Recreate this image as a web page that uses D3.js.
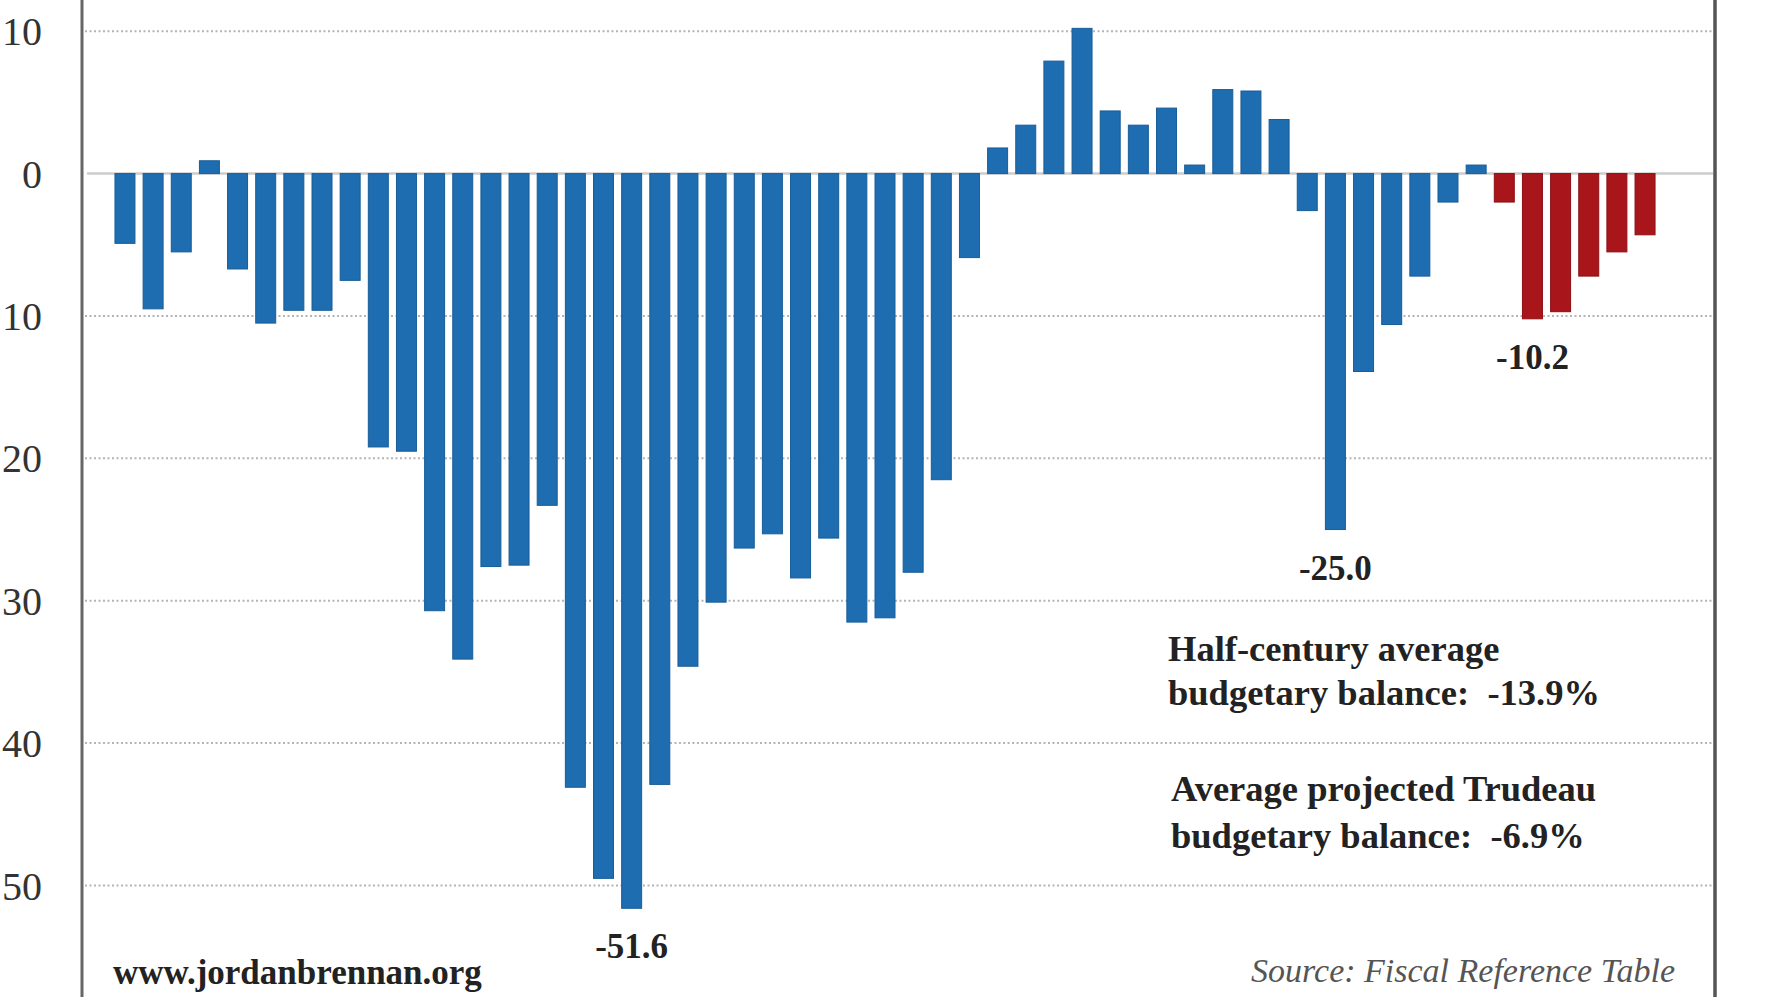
<!DOCTYPE html>
<html lang="en">
<head>
<meta charset="utf-8">
<title>Federal budgetary balance</title>
<script src="https://d3js.org/d3.v7.min.js"></script>
<style>
  body { margin: 0; background: #fff; }
  svg { display: block; }
</style>
</head>
<body>
<script>
// fiscal years, 1966-67 .. 2020-21
var years = ["1966-67","1967-68","1968-69","1969-70","1970-71","1971-72","1972-73","1973-74","1974-75","1975-76",
             "1976-77","1977-78","1978-79","1979-80","1980-81","1981-82","1982-83","1983-84","1984-85","1985-86",
             "1986-87","1987-88","1988-89","1989-90","1990-91","1991-92","1992-93","1993-94","1994-95","1995-96",
             "1996-97","1997-98","1998-99","1999-00","2000-01","2001-02","2002-03","2003-04","2004-05","2005-06",
             "2006-07","2007-08","2008-09","2009-10","2010-11","2011-12","2012-13","2013-14","2014-15","2015-16",
             "2016-17","2017-18","2018-19","2019-20","2020-21"];

var balance = [-4.9, -9.5, -5.5, 0.9, -6.7, -10.5, -9.6, -9.6, -7.5, -19.2,
               -19.5, -30.7, -34.1, -27.6, -27.5, -23.3, -43.1, -49.5, -51.6, -42.9,
               -34.6, -30.1, -26.3, -25.3, -28.4, -25.6, -31.5, -31.2, -28.0, -21.5,
               -5.9, 1.8, 3.4, 7.9, 10.2, 4.4, 3.4, 4.6, 0.6, 5.9,
               5.8, 3.8, -2.6, -25.0, -13.9, -10.6, -7.2, -2.0, 0.6, -2.0,
               -10.2, -9.7, -7.2, -5.5, -4.3];

// projected (Trudeau) years start here
var firstProjected = "2015-16";

var yTicks = [10, 0, -10, -20, -30, -40, -50];

var labelledYears = ["1984-85", "2009-10", "2016-17"];

var noteLines = ["Half-century average", "budgetary balance:  -13.9%",
                 "Average projected Trudeau", "budgetary balance:  -6.9%"];

var siteText = "www.jordanbrennan.org";
var sourceText = "Source: Fiscal Reference Table";

var width = 1778, height = 997;
var axisX = 82, rightX = 1715;

var data = years.map(function(d, i) {
  return {year: d, value: balance[i], projected: i >= years.indexOf(firstProjected)};
});

var svg = d3.select("body").append("svg")
  .attr("width", width)
  .attr("height", height);

svg.append("rect").attr("width", width).attr("height", height).attr("fill", "#fff");

var x = d3.scaleBand()
  .domain(years)
  .range([106.8, 1663.2])
  .padding(0.29);

var y = d3.scaleLinear()
  .domain([-50, 10])
  .range([885.5, 31.2]);

// gridlines
svg.append("g")
  .selectAll("line")
  .data(yTicks.filter(function(d){ return d !== 0; }))
  .enter()
  .append("line")
  .attr("x1", axisX + 3)
  .attr("x2", rightX - 2)
  .attr("y1", function(d){ return y(d); })
  .attr("y2", function(d){ return y(d); })
  .attr("stroke", "#b4b4b4")
  .attr("stroke-width", 2)
  .attr("stroke-dasharray", "2,2.5");

svg.append("line")
  .attr("x1", axisX + 5)
  .attr("x2", rightX - 2)
  .attr("y1", y(0))
  .attr("y2", y(0))
  .attr("stroke", "#cdcdcd")
  .attr("stroke-width", 2.5);

// y labels (the minus signs fall outside the cropped picture, only digits show)
var yAxis = svg.append("g")
  .attr("transform", "translate(42,0)")
  .call(d3.axisLeft(y).tickValues(yTicks).tickSize(0).tickPadding(0)
    .tickFormat(function(d){ return String(Math.abs(d)); }));
yAxis.select(".domain").remove();
yAxis.selectAll("text")
  .attr("font-family", "'Liberation Serif', serif")
  .attr("font-size", "40px")
  .attr("fill", "#333")
  .attr("dy", "0.34em");

// bars
svg.append("g")
  .selectAll("rect")
  .data(data)
  .enter()
  .append("rect")
  .attr("x", function(d){ return x(d.year); })
  .attr("width", x.bandwidth())
  .attr("y", function(d){ return y(Math.max(0, d.value)); })
  .attr("height", function(d){ return Math.abs(y(d.value) - y(0)); })
  .attr("fill", function(d){ return d.projected ? "#a8151a" : "#1d6db0"; })
  .attr("stroke", function(d){ return d.projected ? "#8c1014" : "#185d98"; })
  .attr("stroke-width", 1);

// value labels under selected bars
svg.append("g")
  .selectAll("text")
  .data(data.filter(function(d){ return labelledYears.indexOf(d.year) >= 0; }))
  .enter()
  .append("text")
  .attr("x", function(d){ return x(d.year) + x.bandwidth() / 2; })
  .attr("y", function(d){ return y(d.value) + 50; })
  .attr("text-anchor", "middle")
  .attr("font-family", "'Liberation Serif', serif")
  .attr("font-weight", "bold")
  .attr("font-size", "35px")
  .attr("fill", "#222")
  .text(function(d){ return d3.format(".1f")(d.value).replace("\u2212", "-"); });

// axis line and right border
svg.append("line")
  .attr("x1", axisX).attr("x2", axisX)
  .attr("y1", 0).attr("y2", height)
  .attr("stroke", "#666").attr("stroke-width", 3);
svg.append("line")
  .attr("x1", rightX).attr("x2", rightX)
  .attr("y1", 0).attr("y2", height)
  .attr("stroke", "#555").attr("stroke-width", 3.5);

// notes
var noteY = [661, 705, 801, 848];
var noteX = [1168, 1168, 1171, 1171];
svg.append("g")
  .selectAll("text")
  .data(noteLines)
  .enter()
  .append("text")
  .attr("x", function(d, i){ return noteX[i]; })
  .attr("y", function(d, i){ return noteY[i]; })
  .attr("font-family", "'Liberation Serif', serif")
  .attr("font-weight", "bold")
  .attr("font-size", "36.5px")
  .attr("fill", "#222")
  .style("white-space", "pre")
  .text(function(d){ return d; });

svg.append("text")
  .attr("x", 113)
  .attr("y", 984)
  .attr("font-family", "'Liberation Serif', serif")
  .attr("font-weight", "bold")
  .attr("font-size", "35px")
  .attr("fill", "#222")
  .text(siteText);

svg.append("text")
  .attr("x", 1675)
  .attr("y", 982)
  .attr("text-anchor", "end")
  .attr("font-family", "'Liberation Serif', serif")
  .attr("font-style", "italic")
  .attr("font-size", "34px")
  .attr("fill", "#555")
  .text(sourceText);
</script>
</body>
</html>
